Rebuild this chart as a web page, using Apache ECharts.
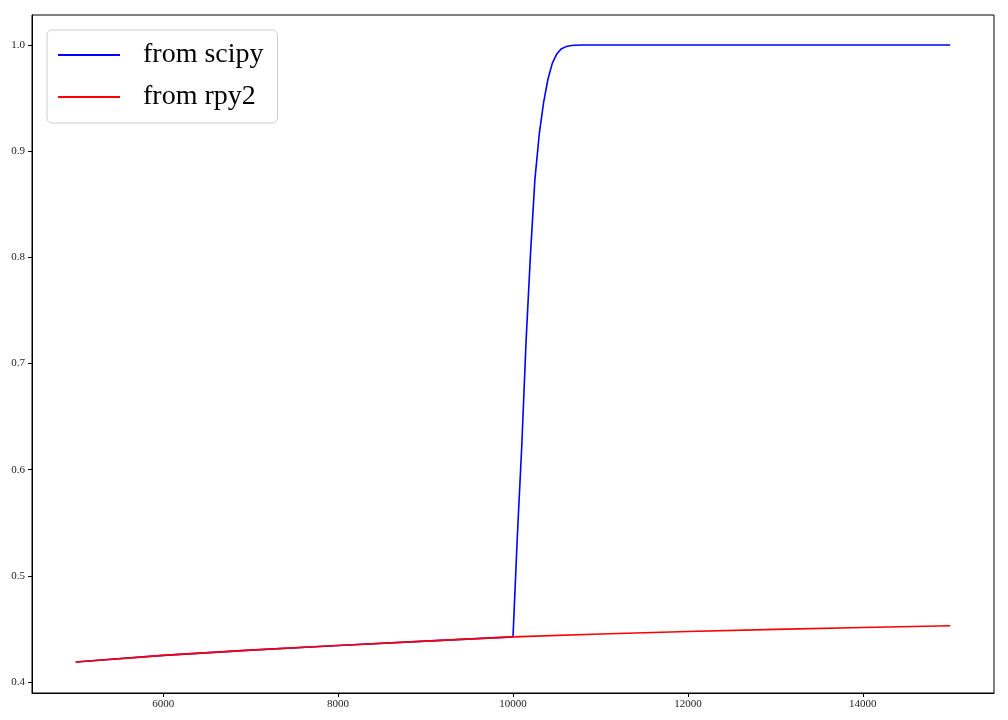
<!DOCTYPE html>
<html>
<head>
<meta charset="utf-8">
<script src="https://cdn.jsdelivr.net/npm/echarts@6/dist/echarts.min.js"></script>
<style>
  html, body { margin: 0; padding: 0; background: #fff; }
  #chart { width: 1008px; height: 720px; }
</style>
</head>
<body>
<div id="chart"></div>
<script>
// values
var rpyX = [5000, 6000, 7000, 8000, 9000, 10000, 11000, 12000, 13000, 14000, 15000];
var rpyY = [0.4188, 0.4250, 0.4300, 0.4343, 0.4385, 0.4425, 0.4452, 0.4475, 0.4495, 0.4513, 0.4530];

var scipyX = [5000, 6000, 7000, 8000, 9000, 10000, 10050, 10100, 10150, 10200, 10250, 10300,
              10350, 10400, 10450, 10500, 10550, 10600, 10650, 10700, 10800, 11000, 12000, 13000, 14000, 15000];
var scipyY = [0.4188, 0.4250, 0.4300, 0.4343, 0.4385, 0.4425, 0.538, 0.622, 0.722, 0.803, 0.873, 0.916,
              0.946, 0.968, 0.983, 0.9915, 0.9962, 0.9983, 0.9993, 0.9998, 1.0, 1.0, 1.0, 1.0, 1.0, 1.0];

var xTicks = [6000, 8000, 10000, 12000, 14000];
var yTicks = [0.4, 0.5, 0.6, 0.7, 0.8, 0.9, 1.0];

function pairs(xs, ys) {
  return xs.map(function (x, i) { return [x, ys[i]]; });
}

var serif = '"Liberation Serif", "DejaVu Serif", serif';

document.addEventListener("DOMContentLoaded", () => {
  var chart = echarts.init(document.querySelector("#chart"));
  chart.setOption({
    animation: false,
    backgroundColor: '#fff',
    grid: {
      left: 32, right: 14, top: 15, bottom: 27,
      show: true, borderColor: '#000', borderWidth: 1, backgroundColor: 'transparent'
    },
    legend: {
      orient: 'vertical',
      left: 47, top: 30,
      padding: [11, 14, 12, 10],
      itemWidth: 62, itemHeight: 2, itemGap: 14,
      borderColor: '#ccc', borderWidth: 1, borderRadius: 5,
      backgroundColor: '#fff',
      textStyle: { fontFamily: serif, fontSize: 28, color: '#000', padding: [0, 0, 0, 18] },
      data: ['from scipy', 'from rpy2']
    },
    xAxis: {
      type: 'value', min: 4500, max: 15500,
      splitLine: { show: false },
      axisLine: { show: true, onZero: false, lineStyle: { color: '#000' } },
      axisTick: { show: true, length: 4, lineStyle: { color: '#000' }, customValues: xTicks },
      axisLabel: {
        fontFamily: serif, fontSize: 11, color: '#222', margin: 6, customValues: xTicks,
        formatter: function (v) { return String(v); }
      }
    },
    yAxis: {
      type: 'value', min: 0.3896, max: 1.0283,
      splitLine: { show: false },
      axisLine: { show: true, onZero: false, lineStyle: { color: '#000' } },
      axisTick: { show: true, length: 4, lineStyle: { color: '#000' }, customValues: yTicks },
      axisLabel: {
        fontFamily: serif, fontSize: 11, color: '#222', margin: 7, customValues: yTicks,
        formatter: function (v) { return v.toFixed(1); }
      }
    },
    series: [
      {
        name: 'from scipy', type: 'line', symbol: 'none',
        lineStyle: { color: '#0000ff', width: 1.6 }, itemStyle: { color: '#0000ff' },
        data: pairs(scipyX, scipyY)
      },
      {
        name: 'from rpy2', type: 'line', symbol: 'none',
        lineStyle: { color: '#ff0000', width: 1.6 }, itemStyle: { color: '#ff0000' },
        data: pairs(rpyX, rpyY)
      }
    ]
  });
});
</script>
</body>
</html>
